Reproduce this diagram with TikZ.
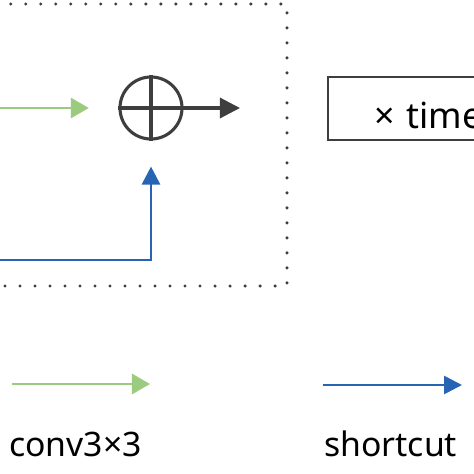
\documentclass[tikz,border=0pt]{standalone}
\usepackage{fontspec}
\setmainfont{Noto Sans}
\usetikzlibrary{arrows.meta}

\definecolor{vertconv}{RGB}{155,203,126}
\definecolor{bleushort}{RGB}{40,100,180}
\definecolor{grisfonce}{RGB}{62,62,62}

\tikzset{
conv/.style={draw=vertconv, line width=2pt, -{Triangle[length=0.45cm,width=0.5cm]}},
short/.style={draw=bleushort, line width=2pt, -{Triangle[length=0.45cm,width=0.45cm]}},
legende/.style={inner sep=0pt, anchor=base west, font=\fontsize{24}{28}\selectfont}
}

\begin{document}
\begin{tikzpicture}[x=0.025cm,y=-0.025cm]

\useasboundingbox (0,0) rectangle (474,474);
\clip (0,0) rectangle (474,474);

% Bloc en pointillés
\draw[
grisfonce,
line width=2.4pt,
line cap=round,
dash pattern=on 0pt off 0.375cm
]
(-10,286) -- (287,286) -- (287,4) -- (-10,4);


% Addition
\node[
draw=grisfonce,
line width=2.2pt,
circle,
minimum size=1.55cm,
inner sep=0pt
] (somme) at (151,108) {};
\draw[grisfonce, line width=2.2pt] (somme.north) -- (somme.south);
\draw[grisfonce, line width=2.2pt] (somme.west) -- (somme.east);

\coordinate (entreeconv) at (0,108);
\coordinate (entreeshort) at (0,260);
\coordinate (sortie) at (240,108);

\draw[conv, shorten >=0.74cm] (entreeconv) -- (somme);
\draw[short, shorten >=0.65cm] (entreeshort) -| (somme);
\draw[
grisfonce,
line width=2.2pt,
-{Triangle[length=0.5cm,width=0.5cm]}
]
(somme.east) -- (sortie);


% Répétition
\node[
draw=grisfonce,
line width=1.5pt,
anchor=north west,
minimum height=1.575cm,
text width=5cm,
text height=0.98cm,
text depth=0cm,
inner xsep=1.15cm,
align=left,
font=\fontsize{25.5}{30}\selectfont
] (boite) at (327,76) {× time};


% Légende
\coordinate (convdebut) at (12,384);
\coordinate (convfin) at (150,384);
\coordinate (shortdebut) at (323,385);
\coordinate (shortfin) at (462,385);

\draw[conv] (convdebut) -- (convfin);
\draw[short] (shortdebut) -- (shortfin);

\node[legende] (legconv) at (9,456) {conv3×3};
\node[legende] (legshort) at (324,456) {shortcut};

\end{tikzpicture}
\end{document}
